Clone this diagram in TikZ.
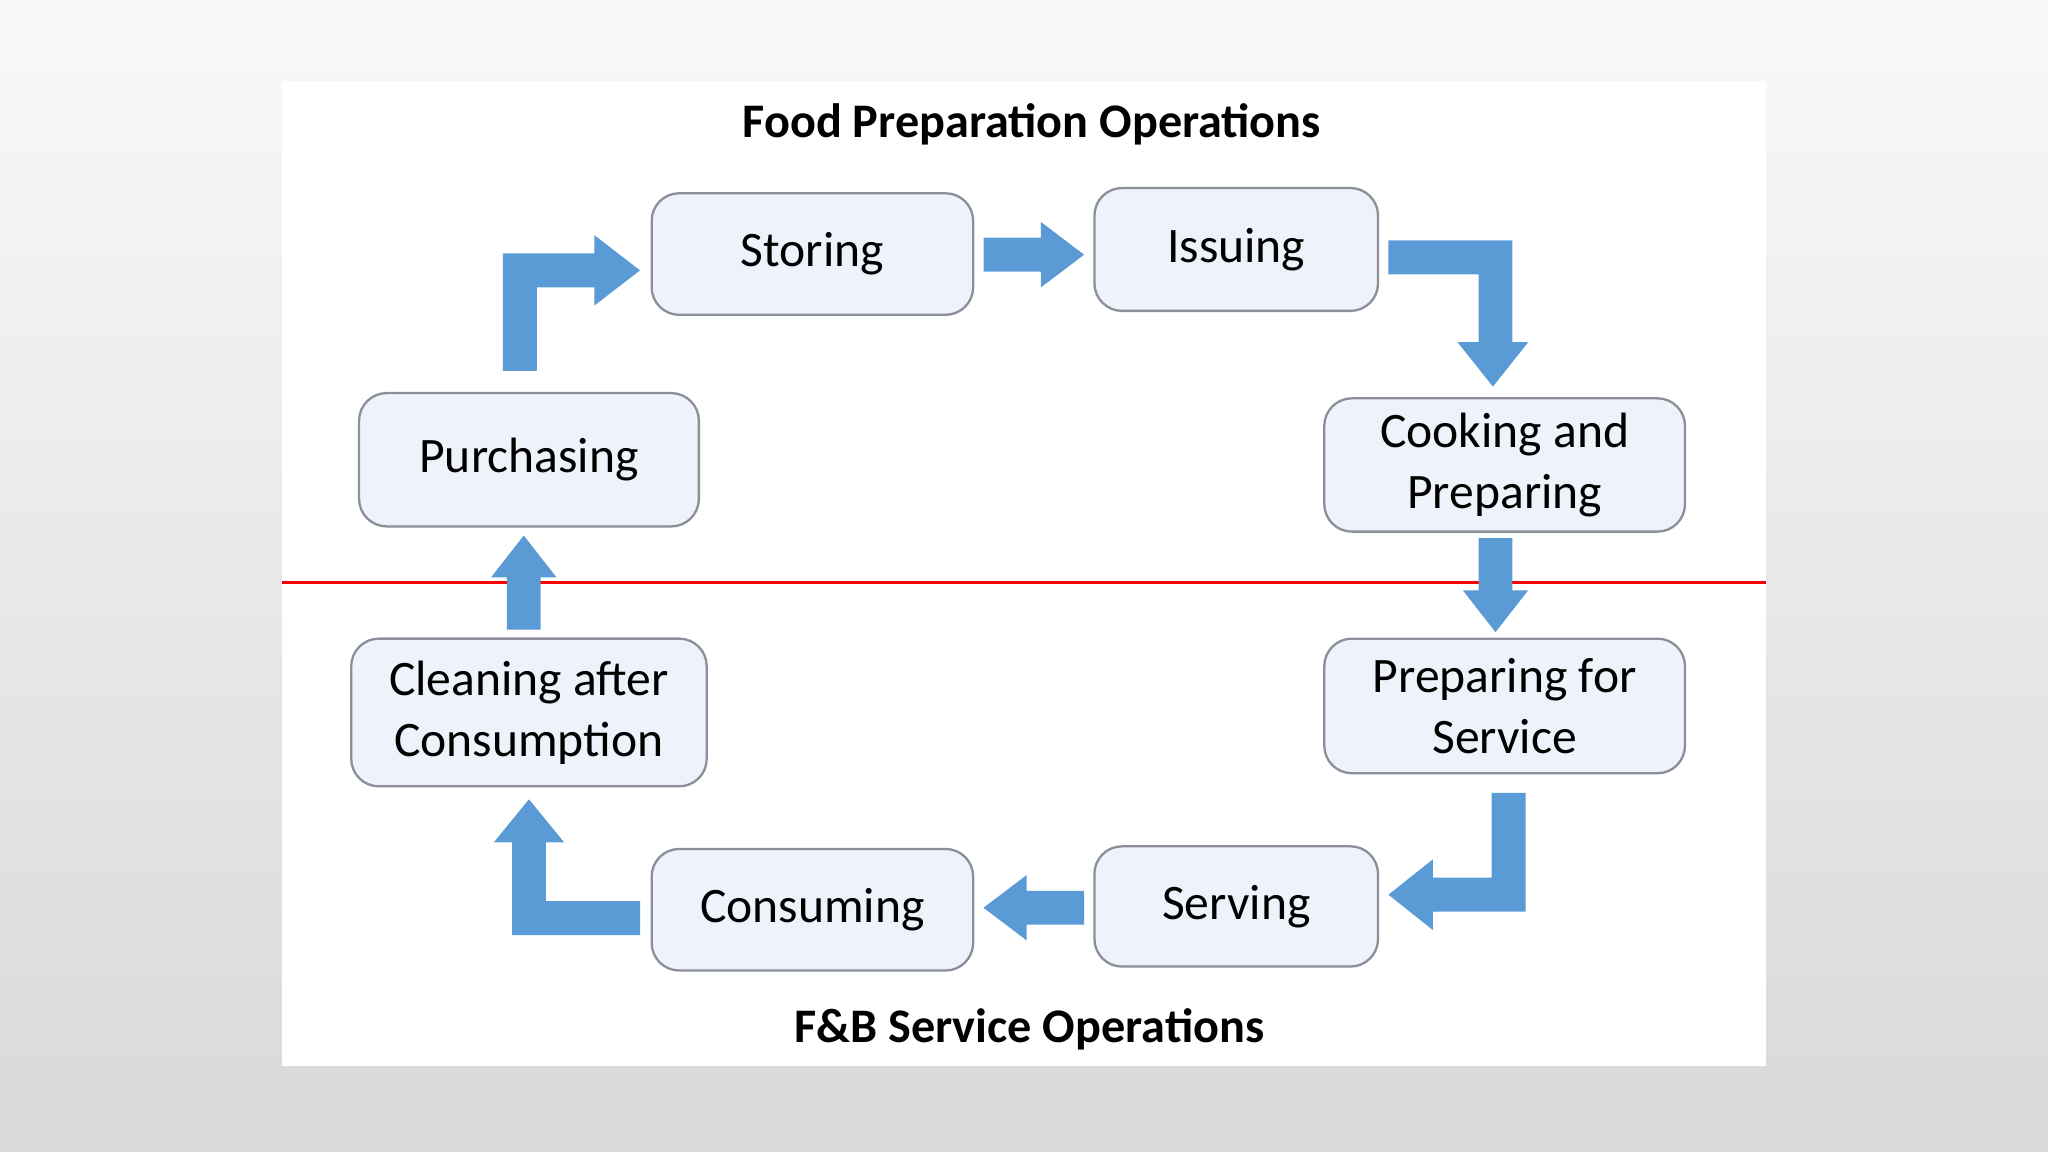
\documentclass[tikz,border=0pt]{standalone}
\usepackage{fontspec}
\setmainfont{Carlito}
\definecolor{boxfill}{HTML}{EEF2FA}
\definecolor{boxline}{HTML}{8A8F99}
\definecolor{arr}{HTML}{5B9BD5}
\begin{document}
\begin{tikzpicture}[x=0.01cm,y=-0.01cm,
  stepbox/.style={draw=boxline,fill=boxfill,rounded corners=6pt,line width=0.5pt,align=center,font=\fontsize{10.8}{13.2}\selectfont,inner sep=0pt},
  blockarrow/.style={fill=arr,draw=none},
  ttl/.style={font=\bfseries\fontsize{10.5}{12}\selectfont}]
\useasboundingbox (0,0) rectangle (1568,882);
\shade[top color=gray!5,bottom color=gray!30] (0,0) rectangle (1568,882);
\fill[white] (216,62) rectangle (1352,816);
\node[ttl] (t1) at (790,95) {Food Preparation Operations};
\node[ttl] (t2) at (788,788) {F\&B Service Operations};
\draw[red,line width=0.8pt] (216,446) -- (1352,446);
\node[stepbox,minimum width=2.46cm,minimum height=0.93cm] (storing) at (622,194.5) {Storing};
\node[stepbox,minimum width=2.17cm,minimum height=0.94cm] (issuing) at (946.5,191) {Issuing};
\node[stepbox,minimum width=2.76cm,minimum height=1.02cm] (cooking) at (1152,356) {Cooking and\\Preparing};
\node[stepbox,minimum width=2.60cm,minimum height=1.02cm] (purch) at (405,352) {Purchasing};
\node[stepbox,minimum width=2.72cm,minimum height=1.13cm] (clean) at (405,545.5) {Cleaning after\\Consumption};
\node[stepbox,minimum width=2.76cm,minimum height=1.03cm] (prep) at (1152,540.5) {Preparing for\\Service};
\node[stepbox,minimum width=2.46cm,minimum height=0.93cm] (cons) at (622,696.5) {Consuming};
\node[stepbox,minimum width=2.17cm,minimum height=0.92cm] (serv) at (946.5,694) {Serving};
% arrows
\fill[blockarrow] (753,182)--(797,182)--(797,170)--(830,195)--(797,220)--(797,208)--(753,208)--cycle;
\fill[blockarrow] (830,682)--(786,682)--(786,670)--(753,695)--(786,720)--(786,708)--(830,708)--cycle;
\fill[blockarrow] (1132,412)--(1158,412)--(1158,452)--(1170,452)--(1145,484)--(1120,452)--(1132,452)--cycle;
\fill[blockarrow] (388,482)--(414,482)--(414,442)--(426,442)--(401,410)--(376,442)--(388,442)--cycle;
\fill[blockarrow] (385,284)--(411,284)--(411,220)--(455,220)--(455,234)--(490,207)--(455,180)--(455,194)--(385,194)--cycle;
\fill[blockarrow] (1063,184)--(1158,184)--(1158,262)--(1170,262)--(1143,296)--(1116,262)--(1132,262)--(1132,210)--(1063,210)--cycle;
\fill[blockarrow] (1142,607)--(1168,607)--(1168,698)--(1097,698)--(1097,712)--(1063,685)--(1097,658)--(1097,672)--(1142,672)--cycle;
\fill[blockarrow] (490,690)--(490,716)--(392,716)--(392,645)--(378,645)--(405,612)--(432,645)--(418,645)--(418,690)--cycle;
\end{tikzpicture}
\end{document}
